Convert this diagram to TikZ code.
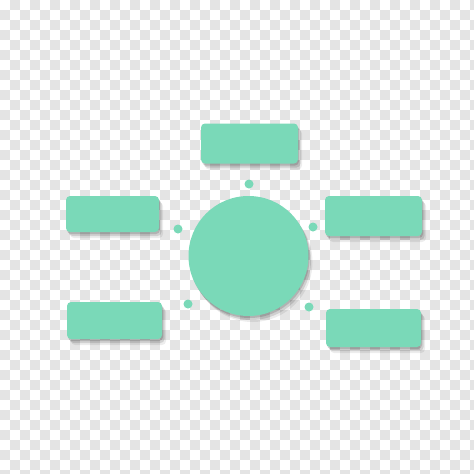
\documentclass[tikz,border=0pt]{standalone}
\usetikzlibrary{shadows}
\definecolor{mint}{HTML}{7AD9B8}
\definecolor{checkgray}{HTML}{E4E4E4}
\tikzset{
  softshadow/.style={
    drop shadow={shadow xshift=1pt,shadow yshift=-2pt,opacity=.14,fill=black},
    drop shadow={shadow xshift=2.5pt,shadow yshift=-4pt,opacity=.12,fill=black},
    drop shadow={shadow xshift=4pt,shadow yshift=-6pt,opacity=.07,fill=black}},
  card/.style={rectangle,rounded corners=4pt,fill=mint,draw=none,softshadow,inner sep=0pt},
  hub/.style={circle,fill=mint,draw=none,softshadow,inner sep=0pt,minimum size=120pt},
  dot/.style={circle,fill=mint,draw=none,inner sep=0pt,minimum size=9pt}
}
\begin{document}
\begin{tikzpicture}[x=1pt,y=-1pt]
\useasboundingbox (0,0) rectangle (474,474);
\fill[white] (0,0) rectangle (474,474);
\foreach \i in {0,...,47}{
  \foreach \j in {0,...,47}{
    \pgfmathtruncatemacro{\parity}{mod(\i+\j,2)}
    \ifnum\parity=1
      \fill[checkgray] (\i*10,\j*10) rectangle ++(10,10);
    \fi
  }
}
\node[card,minimum width=97pt,minimum height=40pt] (top) at (249.5,143.5) {};
\node[card,minimum width=93pt,minimum height=36pt] (lefttop) at (112.5,214) {};
\node[card,minimum width=97pt,minimum height=40pt] (righttop) at (373.5,216) {};
\node[card,minimum width=95pt,minimum height=37pt] (leftbot) at (114.5,320.5) {};
\node[card,minimum width=95pt,minimum height=38pt] (rightbot) at (373.5,328) {};
\node[hub] (hub) at (248.5,256) {};
\node[dot] (dtop) at (249,184) {};
\node[dot] (dleft) at (178,229) {};
\node[dot] (dright) at (313,227) {};
\node[dot] (dbl) at (188,304) {};
\node[dot] (dbr) at (309,307) {};
\end{tikzpicture}
\end{document}
